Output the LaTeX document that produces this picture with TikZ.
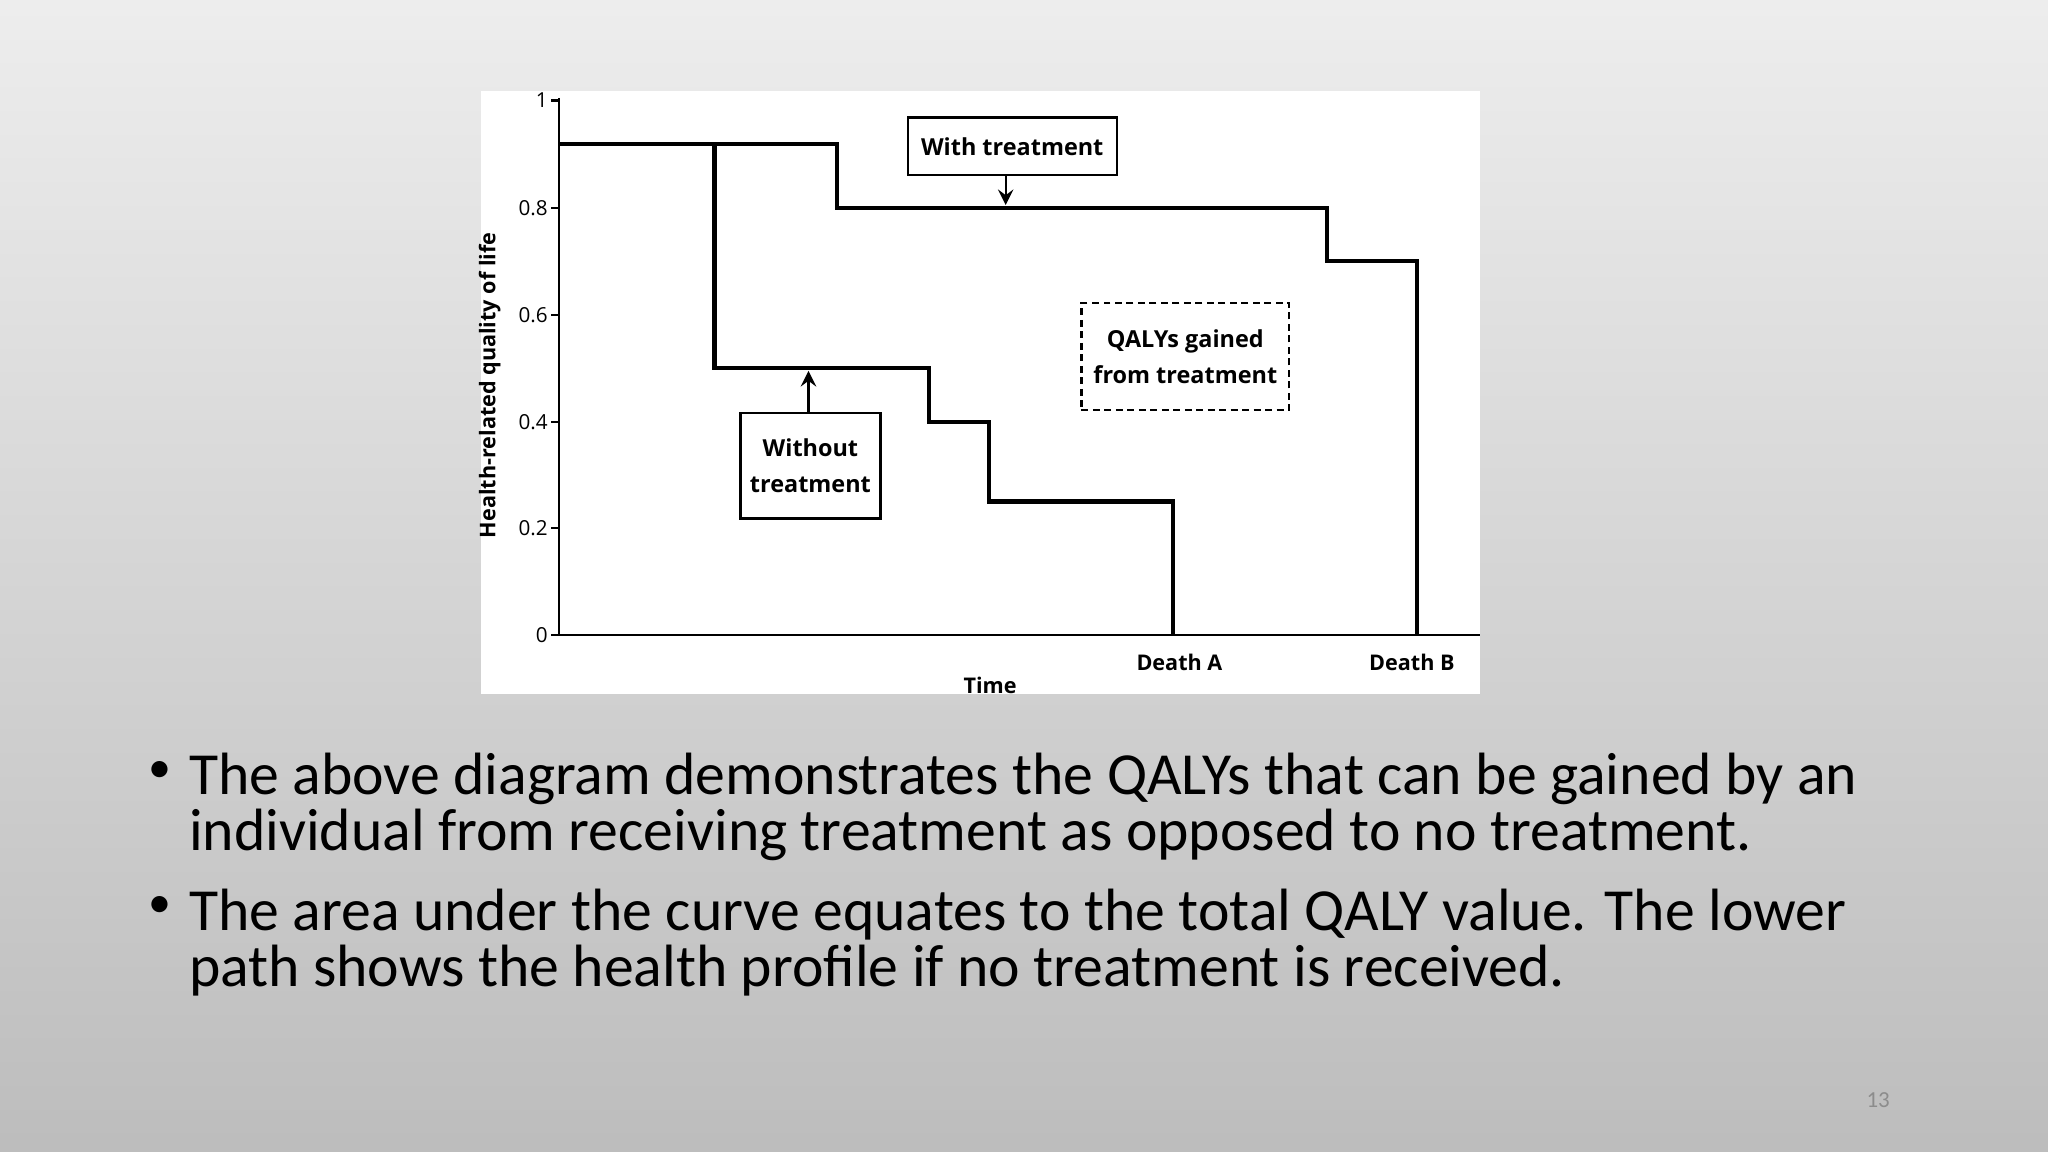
\documentclass[tikz,border=0pt]{standalone}
\usepackage{fontspec}
\setmainfont{Carlito}
\newfontfamily\chartfont{Open Sans}
\begin{document}
\begin{tikzpicture}[x=0.01cm,y=-0.01cm,
  lab/.style={font=\chartfont\bfseries\fontsize{4.7}{6}\selectfont,inner sep=0pt},
  tick/.style={font=\chartfont\fontsize{4.5}{5.5}\selectfont,inner sep=0pt,anchor=east},
  curve/.style={line width=0.9pt},
  boxlab/.style={draw,line width=0.5pt,align=center,inner sep=0pt,font=\chartfont\bfseries\fontsize{5.1}{7.7}\selectfont},
  btext/.style={anchor=north west,align=left,inner sep=0pt,font=\fontsize{13}{12.2}\selectfont},
  bul/.style={anchor=north west,inner sep=0pt,font=\fontsize{10}{10}\selectfont}]
\useasboundingbox (0,0) rectangle (1568,882);
\shade[top color=black!7,bottom color=black!26] (0,0) rectangle (1568,882);
\fill[white] (368,70) rectangle (1133,531);
% axes
\draw[line width=0.5pt] (428,75) -- (428,486) -- (1133,486);
\foreach \v/\y in {1/77,0.8/159,0.6/241,0.4/323,0.2/404,0/486}{
  \draw[line width=0.5pt] (422,\y) -- (428,\y);
  \node[tick] at (420,\y) {\v};}
\node[lab,rotate=90] (ylab) at (375,295) {Health-related quality of life};
\node[lab] (time) at (758,525) {Time};
\node[lab] (da) at (903,507) {Death A};
\node[lab] (db) at (1081,507) {Death B};
% curves
\draw[curve] (428,110) -- (641,110) -- (641,159) -- (1016,159) -- (1016,200) -- (1085,200) -- (1085,486);
\draw[curve] (547,110) -- (547,282) -- (711,282) -- (711,323) -- (757,323) -- (757,384) -- (898,384) -- (898,486);
% boxes
\node[boxlab,minimum width=1.6cm,minimum height=0.44cm] (wt) at (775,112) {With treatment};
\coordinate (wtend) at (770,157);
\draw[-stealth,line width=0.5pt] (wt.south -| wtend) -- (wtend);
\node[boxlab,minimum width=1.07cm,minimum height=0.81cm] (wo) at (620.5,356.5) {Without\\treatment};
\coordinate (woend) at (619,284);
\draw[-stealth,line width=0.5pt] (wo.north -| woend) -- (woend);
\node[boxlab,dashed,dash pattern=on 1.5pt off 1pt,minimum width=1.59cm,minimum height=0.82cm] (qa) at (907.5,273) {QALYs gained\\from treatment};
% bullets
\node[bul] (d1) at (113,582) {•};
\node[btext] (b1) at (144,576)
 {The above diagram demonstrates the QALYs that can be gained by an\\individual from receiving treatment as opposed to no treatment.};
\node[bul] (d2) at (113,686) {•};
\node[btext] (b2) at (144,680)
 {The area under the curve equates to the total QALY value. The lower\\path shows the health profile if no treatment is received.};
\node[font=\fontsize{5}{6}\selectfont,text=black!45] (pg) at (1438,842) {13};
\end{tikzpicture}
\end{document}
